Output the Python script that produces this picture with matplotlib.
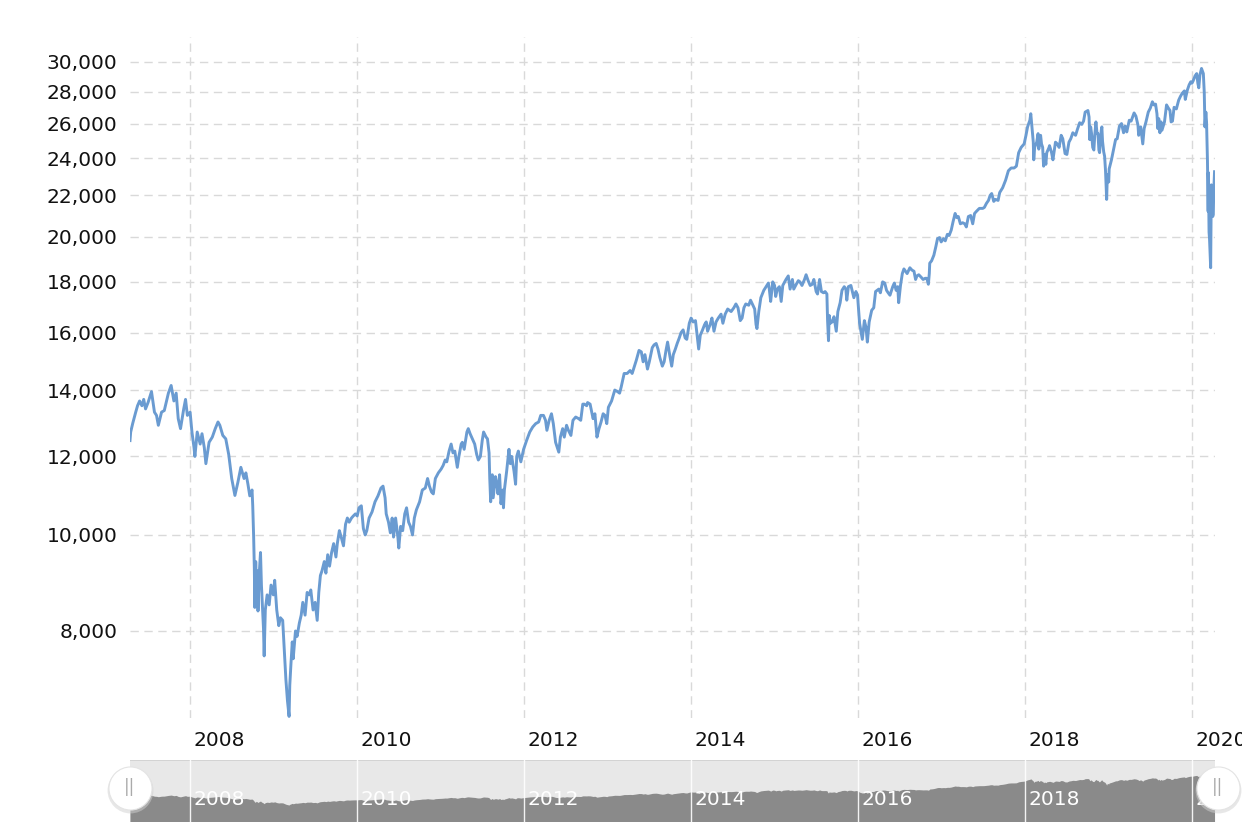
import numpy as np
import pandas as pd
import matplotlib
matplotlib.use("Agg")
import matplotlib.pyplot as plt
import matplotlib.transforms as mtransforms
from matplotlib.ticker import FuncFormatter, NullLocator

# Dow Jones closes (roughly every 1-2 weeks)
dates = [
    "2007-04-13", "2007-04-16", "2007-04-25", "2007-05-08", "2007-05-16", "2007-05-25", "2007-06-04", "2007-06-12",
    "2007-06-20", "2007-07-01", "2007-07-16", "2007-07-29", "2007-08-07", "2007-08-15", "2007-08-29", "2007-09-10",
    "2007-09-28", "2007-10-10", "2007-10-22", "2007-11-01", "2007-11-10", "2007-11-20", "2007-12-04", "2007-12-12",
    "2007-12-20", "2008-01-01", "2008-01-09", "2008-01-18", "2008-01-22", "2008-02-01", "2008-02-14", "2008-02-22",
    "2008-03-03", "2008-03-10", "2008-03-24", "2008-04-07", "2008-04-20", "2008-05-02", "2008-05-10", "2008-05-23",
    "2008-06-05", "2008-06-18", "2008-07-01", "2008-07-15", "2008-07-28", "2008-08-10", "2008-08-24", "2008-09-01",
    "2008-09-10", "2008-09-18", "2008-09-28", "2008-10-01", "2008-10-05", "2008-10-08", "2008-10-10", "2008-10-14",
    "2008-10-17", "2008-10-21", "2008-10-24", "2008-10-29", "2008-11-04", "2008-11-08", "2008-11-12", "2008-11-17",
    "2008-11-20", "2008-11-25", "2008-12-03", "2008-12-12", "2008-12-20", "2008-12-30", "2009-01-05", "2009-01-14",
    "2009-01-23", "2009-01-30", "2009-02-09", "2009-02-17", "2009-02-23", "2009-03-02", "2009-03-09", "2009-03-12",
    "2009-03-17", "2009-03-23", "2009-03-27", "2009-04-06", "2009-04-13", "2009-04-23", "2009-05-01", "2009-05-08",
    "2009-05-18", "2009-05-27", "2009-06-05", "2009-06-12", "2009-06-22", "2009-07-01", "2009-07-10", "2009-07-17",
    "2009-07-24", "2009-07-31", "2009-08-10", "2009-08-17", "2009-08-25", "2009-09-02", "2009-09-11", "2009-09-20",
    "2009-09-30", "2009-10-06", "2009-10-15", "2009-10-23", "2009-11-02", "2009-11-11", "2009-11-19", "2009-11-27",
    "2009-12-07", "2009-12-15", "2009-12-24", "2010-01-01", "2010-01-09", "2010-01-19", "2010-01-28", "2010-02-05",
    "2010-02-12", "2010-02-22", "2010-03-07", "2010-03-20", "2010-04-02", "2010-04-15", "2010-04-24", "2010-05-03",
    "2010-05-08", "2010-05-18", "2010-05-26", "2010-06-03", "2010-06-09", "2010-06-18", "2010-06-28", "2010-07-02",
    "2010-07-10", "2010-07-19", "2010-07-28", "2010-08-05", "2010-08-14", "2010-08-22", "2010-08-31", "2010-09-08",
    "2010-09-17", "2010-10-01", "2010-10-13", "2010-10-26", "2010-11-05", "2010-11-13", "2010-11-22", "2010-11-30",
    "2010-12-09", "2010-12-22", "2011-01-03", "2011-01-12", "2011-01-21", "2011-01-28", "2011-02-07", "2011-02-16",
    "2011-02-24", "2011-03-04", "2011-03-15", "2011-03-22", "2011-04-01", "2011-04-06", "2011-04-14", "2011-04-26",
    "2011-05-02", "2011-05-10", "2011-05-20", "2011-05-30", "2011-06-08", "2011-06-15", "2011-06-24", "2011-07-02",
    "2011-07-08", "2011-07-19", "2011-07-25", "2011-08-01", "2011-08-04", "2011-08-08", "2011-08-12", "2011-08-15",
    "2011-08-19", "2011-08-29", "2011-09-05", "2011-09-09", "2011-09-16", "2011-09-22", "2011-09-30", "2011-10-03",
    "2011-10-07", "2011-10-17", "2011-10-27", "2011-11-02", "2011-11-08", "2011-11-18", "2011-11-25", "2011-11-30",
    "2011-12-07", "2011-12-18", "2011-12-30", "2012-01-12", "2012-01-26", "2012-02-08", "2012-02-21", "2012-03-05",
    "2012-03-14", "2012-03-26", "2012-04-04", "2012-04-10", "2012-04-20", "2012-04-30", "2012-05-08", "2012-05-18",
    "2012-06-01", "2012-06-08", "2012-06-18", "2012-06-25", "2012-07-05", "2012-07-13", "2012-07-24", "2012-08-02",
    "2012-08-14", "2012-08-27", "2012-09-05", "2012-09-14", "2012-09-21", "2012-10-01", "2012-10-05", "2012-10-16",
    "2012-10-29", "2012-11-06", "2012-11-15", "2012-11-24", "2012-12-03", "2012-12-12", "2012-12-20", "2012-12-28",
    "2013-01-04", "2013-01-18", "2013-02-01", "2013-02-13", "2013-02-22", "2013-03-01", "2013-03-14", "2013-03-27",
    "2013-04-09", "2013-04-18", "2013-04-26", "2013-05-06", "2013-05-18", "2013-05-28", "2013-06-05", "2013-06-13",
    "2013-06-24", "2013-07-02", "2013-07-15", "2013-07-23", "2013-08-01", "2013-08-09", "2013-08-17", "2013-08-28",
    "2013-09-05", "2013-09-13", "2013-09-20", "2013-09-30", "2013-10-08", "2013-10-15", "2013-10-24", "2013-11-01",
    "2013-11-10", "2013-11-18", "2013-11-27", "2013-12-06", "2013-12-13", "2013-12-24", "2014-01-01", "2014-01-10",
    "2014-01-20", "2014-01-28", "2014-02-03", "2014-02-10", "2014-02-20", "2014-03-01", "2014-03-08", "2014-03-14",
    "2014-03-25", "2014-04-02", "2014-04-11", "2014-04-20", "2014-04-30", "2014-05-12", "2014-05-20", "2014-05-30",
    "2014-06-10", "2014-06-25", "2014-07-07", "2014-07-16", "2014-07-25", "2014-08-04", "2014-08-12", "2014-08-20",
    "2014-08-28", "2014-09-10", "2014-09-18", "2014-09-28", "2014-10-06", "2014-10-12", "2014-10-16", "2014-10-24",
    "2014-11-02", "2014-11-15", "2014-11-25", "2014-12-05", "2014-12-09", "2014-12-15", "2014-12-24", "2015-01-01",
    "2015-01-06", "2015-01-13", "2015-01-22", "2015-01-30", "2015-02-06", "2015-02-20", "2015-03-02", "2015-03-10",
    "2015-03-20", "2015-03-26", "2015-04-06", "2015-04-15", "2015-04-22", "2015-05-01", "2015-05-12", "2015-05-19",
    "2015-05-28", "2015-06-06", "2015-06-15", "2015-06-22", "2015-07-02", "2015-07-08", "2015-07-17", "2015-07-25",
    "2015-08-03", "2015-08-10", "2015-08-18", "2015-08-21", "2015-08-25", "2015-08-28", "2015-09-02", "2015-09-10",
    "2015-09-18", "2015-09-28", "2015-10-05", "2015-10-15", "2015-10-23", "2015-11-02", "2015-11-09", "2015-11-13",
    "2015-11-20", "2015-12-01", "2015-12-10", "2015-12-14", "2015-12-23", "2015-12-30", "2016-01-08", "2016-01-15",
    "2016-01-20", "2016-01-29", "2016-02-05", "2016-02-11", "2016-02-19", "2016-03-01", "2016-03-10", "2016-03-18",
    "2016-04-01", "2016-04-08", "2016-04-18", "2016-04-27", "2016-05-05", "2016-05-12", "2016-05-20", "2016-06-01",
    "2016-06-08", "2016-06-16", "2016-06-23", "2016-06-27", "2016-07-05", "2016-07-13", "2016-07-20", "2016-08-03",
    "2016-08-15", "2016-08-24", "2016-09-02", "2016-09-09", "2016-09-15", "2016-09-23", "2016-10-03", "2016-10-12",
    "2016-10-21", "2016-10-28", "2016-11-04", "2016-11-08", "2016-11-10", "2016-11-18", "2016-11-28", "2016-12-07",
    "2016-12-14", "2016-12-23", "2016-12-30", "2017-01-09", "2017-01-17", "2017-01-26", "2017-02-03", "2017-02-12",
    "2017-02-20", "2017-03-01", "2017-03-08", "2017-03-15", "2017-03-24", "2017-04-03", "2017-04-12", "2017-04-19",
    "2017-04-28", "2017-05-08", "2017-05-17", "2017-05-25", "2017-06-02", "2017-06-15", "2017-06-30", "2017-07-07",
    "2017-07-16", "2017-07-25", "2017-08-01", "2017-08-08", "2017-08-17", "2017-08-25", "2017-09-05", "2017-09-12",
    "2017-09-25", "2017-10-08", "2017-10-20", "2017-11-01", "2017-11-14", "2017-11-24", "2017-12-04", "2017-12-15",
    "2017-12-28", "2018-01-05", "2018-01-12", "2018-01-22", "2018-01-26", "2018-02-02", "2018-02-06", "2018-02-08",
    "2018-02-12", "2018-02-21", "2018-02-27", "2018-03-02", "2018-03-10", "2018-03-14", "2018-03-19", "2018-03-23",
    "2018-03-27", "2018-04-02", "2018-04-06", "2018-04-16", "2018-04-18", "2018-04-27", "2018-05-03", "2018-05-14",
    "2018-05-22", "2018-05-30", "2018-06-08", "2018-06-15", "2018-06-25", "2018-07-03", "2018-07-12", "2018-07-20",
    "2018-07-29", "2018-08-10", "2018-08-18", "2018-08-28", "2018-09-06", "2018-09-14", "2018-09-21", "2018-10-03",
    "2018-10-08", "2018-10-11", "2018-10-15", "2018-10-19", "2018-10-24", "2018-10-29", "2018-11-02", "2018-11-07",
    "2018-11-12", "2018-11-16", "2018-11-20", "2018-11-23", "2018-11-30", "2018-12-03", "2018-12-06", "2018-12-11",
    "2018-12-15", "2018-12-19", "2018-12-24", "2018-12-27", "2019-01-02", "2019-01-04", "2019-01-14", "2019-01-22",
    "2019-02-01", "2019-02-08", "2019-02-18", "2019-02-27", "2019-03-08", "2019-03-15", "2019-03-22", "2019-04-02",
    "2019-04-10", "2019-04-23", "2019-05-01", "2019-05-10", "2019-05-13", "2019-05-22", "2019-05-31", "2019-06-06",
    "2019-06-14", "2019-06-24", "2019-07-03", "2019-07-12", "2019-07-19", "2019-07-26", "2019-08-01", "2019-08-05",
    "2019-08-09", "2019-08-14", "2019-08-19", "2019-08-23", "2019-09-03", "2019-09-12", "2019-09-20", "2019-09-27",
    "2019-10-02", "2019-10-08", "2019-10-15", "2019-10-25", "2019-11-04", "2019-11-12", "2019-11-20", "2019-11-29",
    "2019-12-03", "2019-12-12", "2019-12-20", "2019-12-27", "2020-01-01", "2020-01-06", "2020-01-15", "2020-01-22",
    "2020-01-27", "2020-01-31", "2020-02-05", "2020-02-12", "2020-02-20", "2020-02-24", "2020-02-27", "2020-03-02",
    "2020-03-05", "2020-03-09", "2020-03-12", "2020-03-13", "2020-03-16", "2020-03-18", "2020-03-23", "2020-03-26",
    "2020-03-31", "2020-04-01", "2020-04-03", "2020-04-07", "2020-04-09",
]

closes = [
    12450, 12700, 12960, 13300, 13500, 13650, 13500, 13700,
    13400, 13600, 13950, 13300, 13200, 12900, 13300, 13350,
    13900, 14150, 13650, 13900, 13100, 12800, 13400, 13700,
    13200, 13300, 12700, 12250, 12000, 12700, 12350, 12650,
    12250, 11800, 12400, 12550, 12800, 13000, 12900, 12600,
    12500, 12050, 11400, 10960, 11300, 11700, 11400, 11550,
    11250, 10950, 11100, 10700, 9950, 9250, 8450, 9400,
    8850, 9200, 8380, 9100, 9600, 8900, 8500, 8050,
    7550, 8400, 8700, 8500, 8900, 8700, 9000, 8400,
    8100, 8250, 8200, 7600, 7150, 6800, 6560, 7050,
    7400, 7800, 7500, 8000, 7900, 8150, 8300, 8550,
    8300, 8750, 8700, 8800, 8400, 8550, 8200, 8750,
    9100, 9200, 9400, 9150, 9550, 9300, 9600, 9800,
    9500, 9800, 10100, 9950, 9750, 10250, 10400, 10300,
    10400, 10450, 10500, 10450, 10650, 10700, 10150, 10000,
    10100, 10400, 10550, 10800, 10950, 11150, 11200, 10900,
    10500, 10300, 10050, 10400, 9950, 10400, 9950, 9700,
    10200, 10100, 10500, 10650, 10300, 10200, 10000, 10400,
    10600, 10800, 11100, 11150, 11400, 11200, 11050, 11000,
    11400, 11550, 11650, 11750, 11900, 11850, 12150, 12350,
    12100, 12150, 11700, 12000, 12350, 12400, 12200, 12700,
    12800, 12650, 12500, 12350, 12050, 11900, 12000, 12450,
    12700, 12550, 12500, 12100, 11400, 10800, 11300, 11500,
    10900, 11450, 11200, 11000, 11500, 10750, 11100, 10650,
    11100, 11600, 12200, 11800, 12000, 11600, 11250, 12000,
    12150, 11850, 12200, 12450, 12700, 12850, 12950, 13000,
    13200, 13200, 13050, 12750, 13050, 13250, 12950, 12400,
    12120, 12550, 12800, 12550, 12900, 12750, 12600, 13050,
    13150, 13100, 13050, 13550, 13550, 13500, 13600, 13550,
    13100, 13250, 12550, 12800, 13000, 13250, 13200, 12950,
    13450, 13650, 14000, 13950, 13900, 14100, 14550, 14550,
    14650, 14550, 14750, 15000, 15350, 15300, 14950, 15200,
    14700, 14950, 15450, 15550, 15600, 15400, 15100, 14800,
    14950, 15350, 15650, 15150, 14800, 15200, 15400, 15600,
    15800, 16000, 16100, 15800, 15750, 16350, 16550, 16400,
    16450, 15850, 15400, 15900, 16100, 16300, 16400, 16050,
    16300, 16550, 16050, 16400, 16550, 16700, 16350, 16700,
    16900, 16800, 16950, 17100, 16950, 16450, 16550, 16950,
    17100, 17050, 17250, 17050, 16900, 16300, 16150, 16800,
    17350, 17650, 17800, 17950, 17700, 17200, 18000, 17850,
    17400, 17700, 17800, 17200, 17850, 18100, 18250, 17700,
    18100, 17700, 17900, 18050, 18000, 17850, 18100, 18300,
    18050, 17850, 17900, 18100, 17600, 17500, 18100, 17600,
    17550, 17600, 17500, 16450, 15700, 16650, 16350, 16400,
    16600, 16050, 16800, 17150, 17650, 17800, 17700, 17250,
    17800, 17850, 17500, 17350, 17600, 17450, 16350, 15990,
    15750, 16450, 16200, 15650, 16400, 16850, 16950, 17600,
    17700, 17550, 18000, 17950, 17650, 17550, 17450, 17800,
    17950, 17650, 17800, 17150, 17850, 18350, 18550, 18350,
    18600, 18500, 18450, 18100, 18250, 18300, 18200, 18100,
    18150, 18150, 17900, 18350, 18800, 18900, 19150, 19550,
    19900, 19950, 19750, 19900, 19800, 20100, 20050, 20300,
    20700, 21100, 20900, 20950, 20600, 20650, 20600, 20450,
    20950, 21000, 20600, 21100, 21200, 21350, 21350, 21400,
    21600, 21750, 22000, 22100, 21700, 21800, 21750, 22150,
    22400, 22800, 23300, 23450, 23450, 23550, 24300, 24600,
    24800, 25300, 25800, 26200, 26600, 25500, 24900, 23900,
    24600, 24900, 25400, 24500, 25300, 24800, 24600, 23550,
    24200, 23650, 24300, 24600, 24700, 24300, 23900, 24900,
    24800, 24600, 25300, 25100, 24250, 24200, 24900, 25100,
    25450, 25300, 25650, 26050, 25950, 26150, 26700, 26800,
    26400, 25050, 25800, 25400, 24600, 24450, 25300, 26100,
    25400, 25400, 24450, 24300, 25550, 25800, 24950, 24350,
    24100, 23300, 21800, 23100, 22700, 23400, 23900, 24400,
    25050, 25100, 25850, 26000, 25450, 25850, 25500, 26200,
    26150, 26650, 26450, 25900, 25300, 25800, 24800, 25700,
    26100, 26700, 26950, 27350, 27150, 27200, 26600, 25700,
    26300, 25450, 26100, 25600, 26100, 27150, 26950, 26800,
    26100, 26150, 27000, 26900, 27450, 27700, 27900, 28050,
    27500, 28100, 28450, 28650, 28550, 28700, 29050, 29200,
    28550, 28250, 29100, 29550, 29200, 27950, 25800, 26700,
    26100, 23850, 21200, 23200, 20200, 19900, 18600, 22550,
    21900, 20950, 21050, 22650, 23250,
]

year_ticks = [2008, 2010, 2012, 2014, 2016, 2018, 2020]
value_ticks = [8000, 10000, 12000, 14000, 16000, 18000, 20000, 22000, 24000, 26000, 28000, 30000]

assert len(dates) == len(closes), (len(dates), len(closes))

t = pd.to_datetime(dates)
v = np.array(closes, dtype=float)
x_start = pd.Timestamp("2007-04-13")
x_end = pd.Timestamp("2020-04-11")
tick_dates = [pd.Timestamp(f"{y}-01-01") for y in year_ticks]

W, H = 1242, 822
fig = plt.figure(figsize=(W / 100, H / 100), dpi=100)
fig.patch.set_facecolor("white")

line_color = "#6a9bd1"
grid_color = "#d9d9d9"
label_size = 14.5

# main chart
ax = fig.add_axes([130 / W, 1 - 718 / H, 1085 / W, (718 - 37) / H])
ax.plot(t, v, color=line_color, lw=2.1, solid_joinstyle="round")
ax.set_yscale("log")
ax.set_ylim(6536, 31790)
ax.set_xlim(x_start, x_end)
for s in ax.spines.values():
    s.set_visible(False)

ax.yaxis.set_minor_locator(NullLocator())
ax.set_yticks(value_ticks)
ax.yaxis.set_major_formatter(FuncFormatter(lambda val, pos: f"{val:,.0f}"))
ax.tick_params(axis="y", length=0, pad=9, labelsize=label_size, labelcolor="#111111")
ax.set_xticks(tick_dates)
ax.tick_params(axis="x", length=0, labelbottom=False)
ax.grid(True, which="major", color=grid_color, lw=1, linestyle=(0, (6, 4)))
ax.set_axisbelow(True)

# year labels sit just right of each gridline
lab_trans = mtransforms.offset_copy(ax.get_xaxis_transform(), fig=fig, x=3.5, y=0, units="dots")
for d, y in zip(tick_dates, year_ticks):
    ax.text(d, -0.019, str(y), transform=lab_trans, ha="left", va="top",
            fontsize=label_size, color="#111111", clip_on=False)

# navigator strip
nav = fig.add_axes([130 / W, 0, 1085 / W, 62 / H])
nav.set_facecolor("#e8e8e8")
nav.fill_between(t, v, -7000, color="#8a8a8a", lw=0)
nav.set_xlim(x_start, x_end)
nav.set_ylim(-6450, 41000)
nav.set_xticks([])
nav.set_yticks([])
for s in nav.spines.values():
    s.set_visible(False)
nav.axhline(41000, color="#cfcfcf", lw=1.2)
for d, y in zip(tick_dates, year_ticks):
    nav.axvline(d, color="white", lw=1, alpha=0.9)
nav_trans = mtransforms.offset_copy(nav.get_xaxis_transform(), fig=fig, x=3.5, y=0, units="dots")
for d, y in zip(tick_dates, year_ticks):
    nav.text(d, 0.36, str(y), transform=nav_trans, ha="left", va="center",
             fontsize=label_size, color="white", clip_on=True)

# navigator handles
for hx in (0.0, 1.0 + 3 / 1085):
    nav.plot([hx], [0.52], transform=nav.transAxes, marker="o", ms=33, mfc="#d0d0d0",
             mec="none", alpha=0.5, clip_on=False, zorder=9)
    nav.plot([hx], [0.548], transform=nav.transAxes, marker="o", ms=31, mfc="white",
             mec="#e4e4e4", mew=0.8, clip_on=False, zorder=10)
    nav.text(hx, 0.56, "||", transform=nav.transAxes, ha="center", va="center",
             fontsize=12, color="#aaaaaa", zorder=11, clip_on=False)

fig.savefig("out.png", dpi=100, facecolor="white")
